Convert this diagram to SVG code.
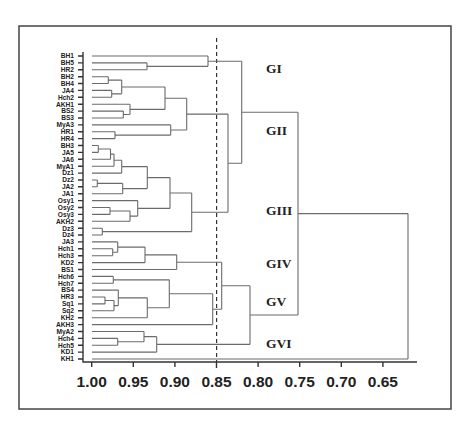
<svg xmlns="http://www.w3.org/2000/svg" width="474" height="441" viewBox="0 0 474 441">
<style>
.frame{fill:#fff;stroke:#444;stroke-width:1.5}
.ln{fill:none;stroke:#6b6b6b;stroke-width:1.1}
.ax{fill:none;stroke:#333;stroke-width:1.4}
.dash{fill:none;stroke:#333;stroke-width:1.2;stroke-dasharray:4 3}
.lf{font-family:"Liberation Sans",Arial,sans-serif;font-weight:bold;font-size:6.6px;fill:#222;text-anchor:end}
.gl{font-family:"Liberation Serif","Times New Roman",serif;font-weight:bold;font-size:13.5px;fill:#222}
.tk{font-family:"Liberation Sans",Arial,sans-serif;font-weight:bold;font-size:15.5px;fill:#222;text-anchor:middle}
</style>
<rect class="frame" x="19" y="26" width="432" height="383"/>
<g id="axes">
<path class="ax" d="M83 52V362H417"/>
<path class="ax" d="M78 56H83M78 62.9H83M78 69.8H83M78 76.7H83M78 83.5H83M78 90.4H83M78 97.3H83M78 104.2H83M78 111.1H83M78 118H83M78 124.9H83M78 131.7H83M78 138.6H83M78 145.5H83M78 152.4H83M78 159.3H83M78 166.2H83M78 173.1H83M78 180H83M78 186.8H83M78 193.7H83M78 200.6H83M78 207.5H83M78 214.4H83M78 221.3H83M78 228.2H83M78 235H83M78 241.9H83M78 248.8H83M78 255.7H83M78 262.6H83M78 269.5H83M78 276.4H83M78 283.3H83M78 290.1H83M78 297H83M78 303.9H83M78 310.8H83M78 317.7H83M78 324.6H83M78 331.5H83M78 338.4H83M78 345.2H83M78 352.1H83M78 359H83"/>
<path class="ax" d="M91.7 362V367M133.3 362V367M174.9 362V367M216.5 362V368M258.1 362V367M299.7 362V367M341.3 362V367M382.9 362V367"/>
<text class="tk" x="91.7" y="387">1.00</text>
<text class="tk" x="133.3" y="387">0.95</text>
<text class="tk" x="174.9" y="387">0.90</text>
<text class="tk" x="216.5" y="387">0.85</text>
<text class="tk" x="258.1" y="387">0.80</text>
<text class="tk" x="299.7" y="387">0.75</text>
<text class="tk" x="341.3" y="387">0.70</text>
<text class="tk" x="382.9" y="387">0.65</text>
</g>
<path class="dash" d="M216.6 38V362"/>
<g id="connectors">
<path class="ln" d="M92 56H208M92 62.9H147M92 69.8H147M92 76.7H108.3M92 83.5H108.3M92 90.4H111.7M92 97.3H111.7M92 104.2H130M92 111.1H123.3M92 118H123.3M92 124.9H170.7M92 131.7H115M92 138.6H115M92 145.5H98.3M92 152.4H98.3M92 159.3H110.5M92 166.2H114M92 173.1H121.7M92 180H97.3M92 186.8H97.3M92 193.7H122.7M92 200.6H137.7M92 207.5H110M92 214.4H110M92 221.3H130M92 228.2H102.3M92 235H102.3M92 241.9H117.7M92 248.8H112.7M92 255.7H112.7M92 262.6H145M92 269.5H176.7M92 276.4H113.3M92 283.3H113.3M92 290.1H118.3M92 297H105M92 303.9H105M92 310.8H114M92 317.7H147.3M92 324.6H212.7M92 331.5H144M92 338.4H117.7M92 345.2H117.7M92 352.1H156.7M92 359H408"/>
<path class="ln" d="M147 62.9V69.8M147 66.35H208"/>
<path class="ln" d="M208 56V66.35M208 61.2H241.7"/>
<path class="ln" d="M108.3 76.7V83.5M108.3 80.1H121.7"/>
<path class="ln" d="M111.7 90.4V97.3M111.7 93.85H121.7"/>
<path class="ln" d="M121.7 80.1V93.85M121.7 87H165"/>
<path class="ln" d="M123.3 111.1V118M123.3 114.55H130"/>
<path class="ln" d="M130 104.2V114.55M130 109.4H165"/>
<path class="ln" d="M165 87V109.4M165 98.2H186.7"/>
<path class="ln" d="M115 131.7V138.6M115 135.15H170.7"/>
<path class="ln" d="M170.7 124.9V135.15M170.7 130H186.7"/>
<path class="ln" d="M186.7 98.2V130M186.7 114.1H228"/>
<path class="ln" d="M98.3 145.5V152.4M98.3 148.95H110.5"/>
<path class="ln" d="M110.5 148.95V159.3M110.5 154.1H114"/>
<path class="ln" d="M114 154.1V166.2M114 160.2H121.7"/>
<path class="ln" d="M121.7 160.2V173.1M121.7 166.6H147.3"/>
<path class="ln" d="M97.3 180V186.8M97.3 183.4H122.7"/>
<path class="ln" d="M122.7 183.4V193.7M122.7 188.6H147.3"/>
<path class="ln" d="M147.3 166.6V188.6M147.3 177.6H170"/>
<path class="ln" d="M110 207.5V214.4M110 211H130"/>
<path class="ln" d="M130 211V221.3M130 216.1H137.7"/>
<path class="ln" d="M137.7 200.6V216.1M137.7 208.4H170"/>
<path class="ln" d="M170 177.6V208.4M170 193H191.7"/>
<path class="ln" d="M102.3 228.2V235M102.3 231.6H191.7"/>
<path class="ln" d="M191.7 193V231.6M191.7 212.3H228"/>
<path class="ln" d="M228 114.1V212.3M228 163.2H241.7"/>
<path class="ln" d="M241.7 61.2V163.2M241.7 112.2H298"/>
<path class="ln" d="M112.7 248.8V255.7M112.7 252.25H117.7"/>
<path class="ln" d="M117.7 241.9V252.25M117.7 247.1H145"/>
<path class="ln" d="M145 247.1V262.6M145 254.85H176.7"/>
<path class="ln" d="M176.7 254.85V269.5M176.7 262.2H221.7"/>
<path class="ln" d="M113.3 276.4V283.3M113.3 279.85H169.3"/>
<path class="ln" d="M105 297V303.9M105 300.45H114"/>
<path class="ln" d="M114 300.45V310.8M114 305.6H118.3"/>
<path class="ln" d="M118.3 290.1V305.6M118.3 297.85H147.3"/>
<path class="ln" d="M147.3 297.85V317.7M147.3 307.8H169.3"/>
<path class="ln" d="M169.3 279.85V307.8M169.3 293.8H212.7"/>
<path class="ln" d="M212.7 293.8V324.6M212.7 309.2H221.7"/>
<path class="ln" d="M221.7 262.2V309.2M221.7 285.7H250"/>
<path class="ln" d="M117.7 338.4V345.2M117.7 341.8H144"/>
<path class="ln" d="M144 331.5V341.8M144 336.65H156.7"/>
<path class="ln" d="M156.7 336.65V352.1M156.7 344.4H250"/>
<path class="ln" d="M250 285.7V344.4M250 315.05H298"/>
<path class="ln" d="M298 112.2V315.05M298 213.6H408"/>
<path class="ln" d="M408 213.6V359"/>
</g>
<g id="leaf-BH1"><text class="lf" x="74" y="58.3">BH1</text></g>
<g id="leaf-BH5"><text class="lf" x="74" y="65.2">BH5</text></g>
<g id="leaf-HR2"><text class="lf" x="74" y="72.1">HR2</text></g>
<g id="leaf-BH2"><text class="lf" x="74" y="79">BH2</text></g>
<g id="leaf-BH4"><text class="lf" x="74" y="85.8">BH4</text></g>
<g id="leaf-JA4"><text class="lf" x="74" y="92.7">JA4</text></g>
<g id="leaf-Hch2"><text class="lf" x="74" y="99.6">Hch2</text></g>
<g id="leaf-AKH1"><text class="lf" x="74" y="106.5">AKH1</text></g>
<g id="leaf-BS2"><text class="lf" x="74" y="113.4">BS2</text></g>
<g id="leaf-BS3"><text class="lf" x="74" y="120.3">BS3</text></g>
<g id="leaf-MyA3"><text class="lf" x="74" y="127.2">MyA3</text></g>
<g id="leaf-HR1"><text class="lf" x="74" y="134">HR1</text></g>
<g id="leaf-HR4"><text class="lf" x="74" y="140.9">HR4</text></g>
<g id="leaf-BH3"><text class="lf" x="74" y="147.8">BH3</text></g>
<g id="leaf-JA5"><text class="lf" x="74" y="154.7">JA5</text></g>
<g id="leaf-JA6"><text class="lf" x="74" y="161.6">JA6</text></g>
<g id="leaf-MyA1"><text class="lf" x="74" y="168.5">MyA1</text></g>
<g id="leaf-Dz1"><text class="lf" x="74" y="175.4">Dz1</text></g>
<g id="leaf-Dz2"><text class="lf" x="74" y="182.3">Dz2</text></g>
<g id="leaf-JA2"><text class="lf" x="74" y="189.1">JA2</text></g>
<g id="leaf-JA1"><text class="lf" x="74" y="196">JA1</text></g>
<g id="leaf-Osy1"><text class="lf" x="74" y="202.9">Osy1</text></g>
<g id="leaf-Osy2"><text class="lf" x="74" y="209.8">Osy2</text></g>
<g id="leaf-Osy3"><text class="lf" x="74" y="216.7">Osy3</text></g>
<g id="leaf-AKH2"><text class="lf" x="74" y="223.6">AKH2</text></g>
<g id="leaf-Dz3"><text class="lf" x="74" y="230.5">Dz3</text></g>
<g id="leaf-Dz4"><text class="lf" x="74" y="237.3">Dz4</text></g>
<g id="leaf-JA3"><text class="lf" x="74" y="244.2">JA3</text></g>
<g id="leaf-Hch1"><text class="lf" x="74" y="251.1">Hch1</text></g>
<g id="leaf-Hch3"><text class="lf" x="74" y="258">Hch3</text></g>
<g id="leaf-KD2"><text class="lf" x="74" y="264.9">KD2</text></g>
<g id="leaf-BS1"><text class="lf" x="74" y="271.8">BS1</text></g>
<g id="leaf-Hch6"><text class="lf" x="74" y="278.7">Hch6</text></g>
<g id="leaf-Hch7"><text class="lf" x="74" y="285.6">Hch7</text></g>
<g id="leaf-BS4"><text class="lf" x="74" y="292.4">BS4</text></g>
<g id="leaf-HR3"><text class="lf" x="74" y="299.3">HR3</text></g>
<g id="leaf-Sq1"><text class="lf" x="74" y="306.2">Sq1</text></g>
<g id="leaf-Sq2"><text class="lf" x="74" y="313.1">Sq2</text></g>
<g id="leaf-KH2"><text class="lf" x="74" y="320">KH2</text></g>
<g id="leaf-AKH3"><text class="lf" x="74" y="326.9">AKH3</text></g>
<g id="leaf-MyA2"><text class="lf" x="74" y="333.8">MyA2</text></g>
<g id="leaf-Hch4"><text class="lf" x="74" y="340.7">Hch4</text></g>
<g id="leaf-Hch5"><text class="lf" x="74" y="347.5">Hch5</text></g>
<g id="leaf-KD1"><text class="lf" x="74" y="354.4">KD1</text></g>
<g id="leaf-KH1"><text class="lf" x="74" y="361.3">KH1</text></g>
<g id="group-GI"><text class="gl" x="266" y="72.5">GI</text></g>
<g id="group-GII"><text class="gl" x="266" y="135">GII</text></g>
<g id="group-GIII"><text class="gl" x="266" y="214.5">GIII</text></g>
<g id="group-GIV"><text class="gl" x="266" y="267.5">GIV</text></g>
<g id="group-GV"><text class="gl" x="266" y="305.5">GV</text></g>
<g id="group-GVI"><text class="gl" x="266" y="347.5">GVI</text></g>
</svg>
